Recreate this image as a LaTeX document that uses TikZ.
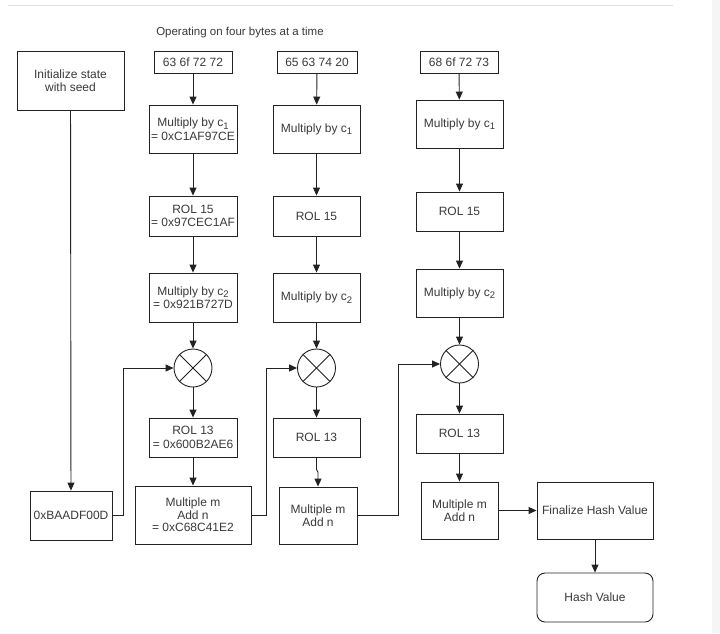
\documentclass[tikz,border=0pt]{standalone}
\usepackage{fontspec}
\setmainfont{Liberation Sans}
\usetikzlibrary{arrows.meta}
\definecolor{txt}{HTML}{3A3A3A}
\definecolor{ln}{HTML}{222222}
\newcommand{\lowidx}[1]{\raisebox{-2.5pt}{\fontsize{9.5}{9.5}\selectfont #1}}
\begin{document}
\begin{tikzpicture}[x=1pt,y=-1pt,
  box/.style={draw=ln,line width=0.9pt,rectangle,inner sep=0pt,align=center,font=\fontsize{12}{13.5}\selectfont,text=txt},
  xo/.style={draw=ln,line width=0.9pt,circle,minimum size=38pt,inner sep=0pt},
  arr/.style={draw=ln,line width=0.9pt,-{Triangle[length=8pt,width=7pt]}},
  lnk/.style={draw=ln,line width=0.9pt}]
\useasboundingbox (0,0) rectangle (720,633);
\fill[white] (0,0) rectangle (720,633);
\fill[black!4] (712,0) rectangle (720,633);
\draw[black!12,line width=0.8pt] (8,5) -- (673,5);
\node[font=\fontsize{11.5}{13}\selectfont,text=txt] (title) at (240,33) {Operating on four bytes at a time};
% left
\node[box,minimum width=107pt,minimum height=59pt] (init) at (70.5,80.5) {Initialize state\\with seed};
\node[box,minimum width=82pt,minimum height=49pt] (seed) at (71,515.5) {0xBAADF00D};
% column 1
\node[box,minimum width=78pt,minimum height=22pt] (in1) at (193,62) {63 6f 72 72};
\node[box,minimum width=88pt,minimum height=48pt] (ma1) at (193,129) {Multiply by c\lowidx{1}\\= 0xC1AF97CE};
\node[box,minimum width=88pt,minimum height=40pt] (ra1) at (193,216) {ROL 15\\= 0x97CEC1AF};
\node[box,minimum width=88pt,minimum height=49pt] (mb1) at (193,297.5) {Multiply by c\lowidx{2}\\= 0x921B727D};
\node[xo] (x1) at (193,368) {};
\node[box,minimum width=88pt,minimum height=39pt] (rb1) at (193,437.5) {ROL 13\\= 0x600B2AE6};
\node[box,minimum width=116pt,minimum height=58pt,font=\fontsize{12}{12.5}\selectfont] (mm1) at (193,515) {Multiple m\\Add n\\= 0xC68C41E2};
% column 2
\node[box,minimum width=80pt,minimum height=22pt] (in2) at (317,62) {65 63 74 20};
\node[box,minimum width=87pt,minimum height=48pt] (ma2) at (316.5,129) {Multiply by c\lowidx{1}};
\node[box,minimum width=87pt,minimum height=40pt] (ra2) at (316.5,216) {ROL 15};
\node[box,minimum width=87pt,minimum height=49pt] (mb2) at (316.5,297.5) {Multiply by c\lowidx{2}};
\node[xo] (x2) at (316.5,368) {};
\node[box,minimum width=87pt,minimum height=39pt] (rb2) at (316.5,437.5) {ROL 13};
\node[box,minimum width=78pt,minimum height=57pt] (mm2) at (318,515.5) {Multiple m\\Add n};
% column 3
\node[box,minimum width=78pt,minimum height=22pt] (in3) at (459,62) {68 6f 72 73};
\node[box,minimum width=87pt,minimum height=48pt] (ma3) at (459.5,124) {Multiply by c\lowidx{1}};
\node[box,minimum width=87pt,minimum height=39pt] (ra3) at (459.5,211.5) {ROL 15};
\node[box,minimum width=87pt,minimum height=48pt] (mb3) at (459.5,293) {Multiply by c\lowidx{2}};
\node[xo] (x3) at (459.5,364) {};
\node[box,minimum width=87pt,minimum height=39pt] (rb3) at (459.5,433.5) {ROL 13};
\node[box,minimum width=77pt,minimum height=57pt] (mm3) at (459.5,510.5) {Multiple m\\Add n};
% finalize
\node[box,minimum width=116pt,minimum height=57pt] (fin) at (595,510.5) {Finalize Hash Value};
\node[box,rounded corners=8pt,minimum width=116pt,minimum height=49pt] (hash) at (595,597.5) {Hash Value};
% crosses
\foreach \c in {x1,x2,x3}{
  \draw[lnk] (\c.45) -- (\c.225);
  \draw[lnk] (\c.135) -- (\c.-45);
}
% connectors
\draw[arr] (init) -- (seed);
\foreach \a/\b in {in1/ma1,ma1/ra1,ra1/mb1,mb1/x1,x1/rb1,rb1/mm1,
                   in2/ma2,ma2/ra2,ra2/mb2,mb2/x2,x2/rb2,
                   in3/ma3,ma3/ra3,ra3/mb3,mb3/x3,x3/rb3,rb3/mm3}{
  \draw[arr] (\a) -- (\b);
}
\draw[arr] (rb2.south) -- ++(0,12) -- ++(1.5,3) -- (mm2.north);
\draw[arr] (seed.east) -- ++(11,0) |- (x1.west);
\draw[arr] (mm1.east) -- ++(15,0) |- (x2.west);
\draw[arr] (mm2.east) -- ++(41,0) |- (x3.west);
\draw[arr] (mm3) -- (fin);
\draw[arr] (fin) -- (hash);
\end{tikzpicture}
\end{document}
